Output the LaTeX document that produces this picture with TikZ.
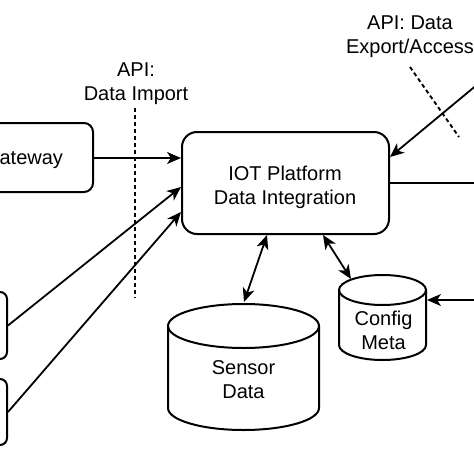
\documentclass[tikz,border=0pt]{standalone}
\usepackage{fontspec}
\setmainfont{Liberation Sans}
\usetikzlibrary{arrows.meta}
\tikzset{
  box/.style={draw, line width=2pt, rounded corners=9pt, inner sep=0pt},
  lbl/.style={font=\fontsize{20}{24}\selectfont, align=center, inner sep=0pt},
  tip/.style={},
  arr/.style={line width=1.8pt, -{Stealth[length=14pt, width=12pt, inset=4pt]}},
  darr/.style={line width=1.8pt, {Stealth[length=14pt, width=12pt, inset=4pt]}-{Stealth[length=14pt, width=12pt, inset=4pt]}},
  plain/.style={line width=1.8pt},
  dline/.style={line width=1.9pt, dash pattern=on 4pt off 3pt},
  cyl/.style={line width=2pt}
}
\begin{document}
\begin{tikzpicture}[x=1pt, y=-1pt]
\useasboundingbox (0,0) rectangle (474,474);
\clip (0,0) rectangle (474,474);
\fill[white] (0,0) rectangle (474,474);

% boxes
\node[box, minimum width=139pt, minimum height=69pt] (gw) at (23.5,157.5) {};
\node[lbl] (gwlbl) at (23.5,160) {Gateway};
\node[box, rounded corners=15pt, minimum width=207pt, minimum height=102pt] (iot) at (285.5,183) {};
\node[lbl] (iotlbl) at (285,187) {IOT Platform\\Data Integration};
\node[box, rounded corners=7pt, minimum width=94pt, minimum height=67pt] (lb1) at (-40,325.5) {};
\node[box, rounded corners=7pt, minimum width=94pt, minimum height=66pt] (lb2) at (-40,412) {};

% labels
\node[lbl] (imp) at (136,83.5) {API:\\Data Import};
\node[lbl] (exp) at (410,37) {API: Data\\Export/Access};

% Sensor Data cylinder
\draw[cyl] (243.5,326) ellipse[x radius=75.5pt, y radius=22pt];
\draw[cyl] (168,326) -- (168,408) arc[start angle=180, end angle=360, x radius=75.5pt, y radius=22pt] -- (319,326);
\node[lbl] (sensor) at (243.5,380) {Sensor\\Data};
\coordinate (sensortop) at (244,302);

% Config Meta cylinder
\draw[cyl] (382.5,290) ellipse[x radius=43.5pt, y radius=15pt];
\draw[cyl] (339,290) -- (339,345) arc[start angle=180, end angle=360, x radius=43.5pt, y radius=15pt] -- (426,290);
\node[lbl] (config) at (383.5,330) {Config\\Meta};
\coordinate (configtop) at (351,279);
\coordinate (configeast) at (427,300);

% dashed API lines
\coordinate (d1) at (135,108);
\coordinate (d2) at (135,298);
\draw[dline] (d1) -- (d2);
\coordinate (e1) at (410,67);
\coordinate (e2) at (459,137);
\draw[dline] (e1) -- (e2);

% connectors
\draw[arr] (gw.east |- 0,158) -- (iot.west |- 0,158);
\draw[arr] (lb1.east) -- ([yshift=-4pt]iot.west);
\draw[arr] (lb2.east) -- ([yshift=-29pt]iot.west);
\coordinate (ext1) at (490,74);
\draw[arr] (ext1) -- ([yshift=26pt]iot.east);
\coordinate (ext2) at (490,183);
\draw[plain] (iot.east) -- (ext2);
\coordinate (ext3) at (490,300);
\draw[arr] (ext3) -- (configeast);
\coordinate (iotb1) at (267,235);
\coordinate (iotb2) at (323,235);
\draw[darr] (iotb1) -- (sensortop);
\draw[darr] (iotb2) -- (configtop);
\end{tikzpicture}
\end{document}
